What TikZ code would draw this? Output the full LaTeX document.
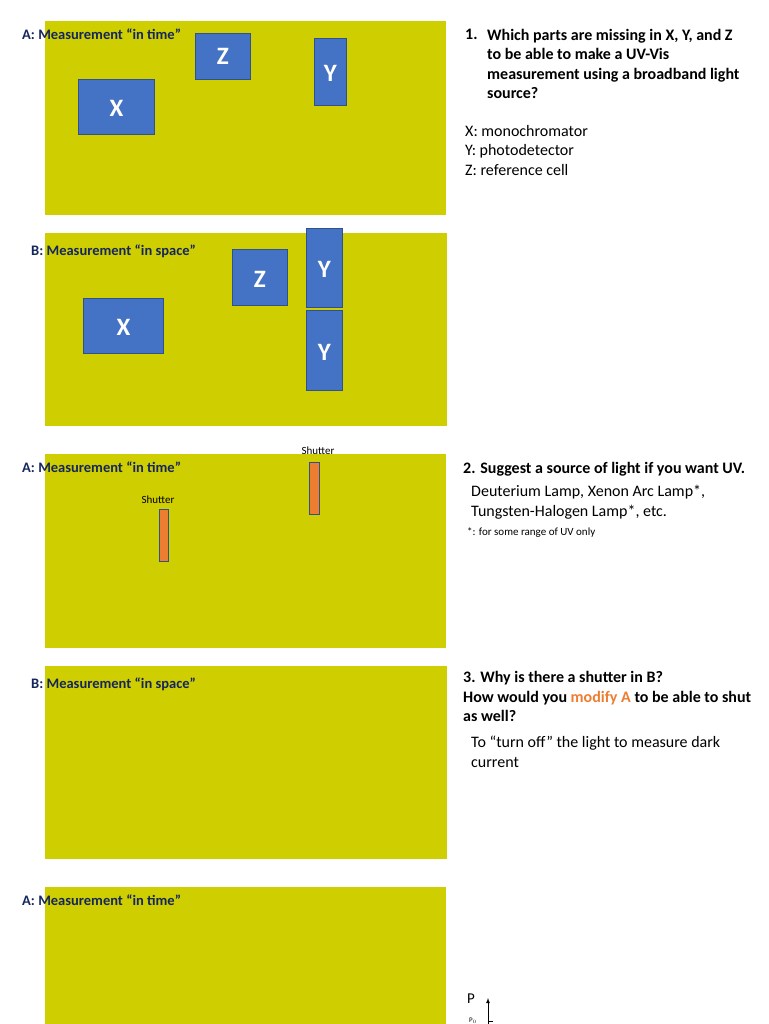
\documentclass[tikz,border=0pt]{standalone}
\usepackage{fontspec}
\setmainfont{Carlito}
\definecolor{panelcol}{HTML}{CFCE00}
\definecolor{boxcol}{HTML}{4472C4}
\definecolor{boxline}{HTML}{2F528F}
\definecolor{shutcol}{HTML}{ED7D31}
\definecolor{titlecol}{HTML}{14265C}
\tikzset{
    panel/.style={fill=panelcol,inner sep=0pt,anchor=north west},
    partbox/.style={draw=boxline,fill=boxcol,line width=0.8pt,inner sep=0pt,anchor=north west,
        text=white,text height=20pt,text depth=0pt,font=\fontsize{25}{25}\selectfont\bfseries},
    shutbox/.style={draw=boxline,fill=shutcol,line width=0.8pt,inner sep=0pt,anchor=north west},
    title/.style={anchor=west,inner sep=0pt,text=titlecol,font=\fontsize{14.5}{14.5}\selectfont\bfseries},
    shutlabel/.style={inner sep=0pt,font=\fontsize{11}{11}\selectfont},
    question/.style={anchor=north west,inner sep=0pt,align=left,font=\fontsize{16}{19.6}\selectfont\bfseries},
    answer/.style={anchor=north west,inner sep=0pt,align=left,font=\fontsize{16}{19.6}\selectfont},
}
\begin{document}
\begin{tikzpicture}[x=1pt,y=-1pt]
    \useasboundingbox (0,0) rectangle (768,1024);
    % yellow panels
    \foreach \n/\w/\y/\h in {a/401/21/194, b/402/233/193, c/401/454/194, d/402/666/193, e/401/887/137}{
        \node (panel\n) at (45,\y)[panel,minimum width=\w pt,minimum height=\h pt]{};
    }
    \node (titlea) at (22,34)[title]{A: Measurement “in time”};
    \node (titleb) at (31,251)[title]{B: Measurement “in space”};
    \node (titlec) at (22,467)[title]{A: Measurement “in time”};
    \node (titled) at (31,684)[title]{B: Measurement “in space”};
    \node (titlee) at (22,900)[title]{A: Measurement “in time”};

    % parts
    \node (xa) at (78,79)[partbox,minimum width=76pt,minimum height=55pt]{X};
    \node (za) at (195,33)[partbox,text height=17pt,minimum width=55pt,minimum height=46pt]{Z};
    \node (ya) at (314,38)[partbox,minimum width=32pt,minimum height=67pt]{Y};
    \node (xb) at (83,298)[partbox,minimum width=80pt,minimum height=55pt]{X};
    \node (zb) at (232,249)[partbox,minimum width=55pt,minimum height=56pt]{Z};
    \node (yb) at (306,228)[partbox,minimum width=36pt,minimum height=79pt]{Y};
    \node (yc) at (306,310)[partbox,minimum width=36pt,minimum height=80pt]{Y};

    % shutters
    \node (shuta) at (159,509)[shutbox,minimum width=9pt,minimum height=52pt]{};
    \node (shutb) at (309,462)[shutbox,minimum width=9.5pt,minimum height=52pt]{};
    \node (shutlabela) at (158,499.5)[shutlabel]{Shutter};
    \node (shutlabelb) at (318,451)[shutlabel]{Shutter};

    % questions
    \node (qone) at (487,29)[question,font=\fontsize{16}{19.4}\selectfont\bfseries]{Which parts are missing in X, Y, and Z\\to be able to make a UV-Vis\\measurement using a broadband light\\source?};
    \node (qonenum) at (465,29)[question,font=\fontsize{16}{19.4}\selectfont\bfseries]{1.};
    \node (aone) at (465,125)[answer]{X: monochromator\\Y: photodetector\\Z: reference cell};
    \node (qtwo) at (463,462)[question]{2. Suggest a source of light if you want UV.};
    \node (atwo) at (471,485)[answer]{Deuterium Lamp, Xenon Arc Lamp*,\\Tungsten-Halogen Lamp*, etc.};
    \node (notetwo) at (467,527.5)[anchor=north west,inner sep=0pt,font=\fontsize{11}{12}\selectfont]{*: for some range of UV only};
    \node (qthree) at (463,671)[question]{3. Why is there a shutter in B?\\How would you \textcolor{shutcol}{modify A} to be able to shut\\as well?};
    \node (athree) at (471,736)[answer]{To “turn off” the light to measure dark\\current};

    % plot axis at the bottom
    \coordinate (axisbot) at (488,1024);
    \coordinate (axistop) at (488,998);
    \coordinate (ticka) at (488,1021);
    \coordinate (tickb) at (493,1021);
    \draw[-latex,line width=0.8pt] (axisbot) -- (axistop);
    \draw[line width=0.8pt] (ticka) -- (tickb);
    \node (plabel) at (471,999)[inner sep=0pt,font=\fontsize{15}{15}\selectfont]{P};
    \node (pzero) at (473,1021)[inner sep=0pt,font=\fontsize{7}{7}\selectfont]{P$_0$};
\end{tikzpicture}
\end{document}
